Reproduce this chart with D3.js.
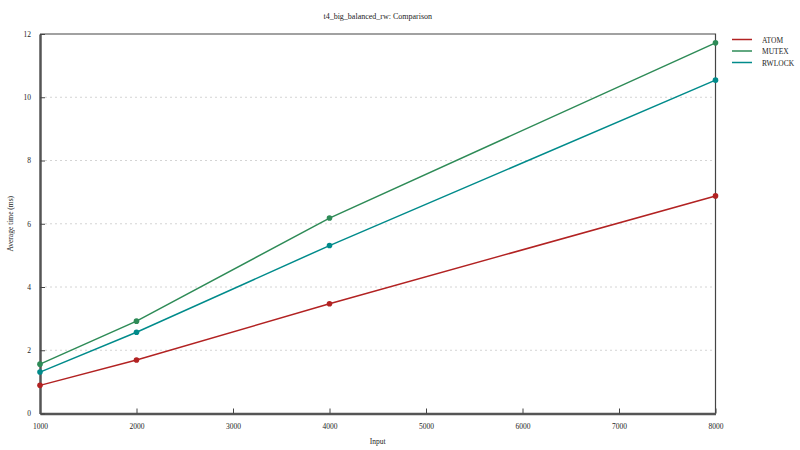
<!DOCTYPE html>
<html><head><meta charset="utf-8">
<script src="https://cdn.jsdelivr.net/npm/d3@7/dist/d3.min.js"></script>
<style>body{margin:0;background:#fff;} svg{display:block;font-family:"Liberation Serif","Times New Roman",serif;} svg text{opacity:0.99;}</style>
</head><body>
<svg id="chart" width="800" height="450"></svg>
<script>
const inputs = [1000, 2000, 4000, 8000];
const atom = [0.89, 1.69, 3.47, 6.88];
const mutex = [1.56, 2.92, 6.18, 11.72];
const rwlock = [1.31, 2.57, 5.31, 10.54];
const seriesNames = ["ATOM", "MUTEX", "RWLOCK"];
const seriesColors = ["rgb(178,34,34)", "rgb(46,139,87)", "rgb(0,139,139)"];
const xTicks = [1000, 2000, 3000, 4000, 5000, 6000, 7000, 8000];
const yTicks = [0, 2, 4, 6, 8, 10, 12];
const title = "t4_big_balanced_rw: Comparison";

const series = [atom, mutex, rwlock].map((vals, i) => ({
  name: seriesNames[i], color: seriesColors[i],
  pts: vals.map((v, j) => ({x: inputs[j], y: v}))
}));

const svg = d3.select("#chart");
const L = 40, R = 715.5, T = 34, B = 413.5;
const x = d3.scaleLinear().domain([1000, 8000]).range([L, R]);
const y = d3.scaleLinear().domain([0, 12]).range([B, T]);

// grid
svg.append("g").selectAll("line").data(yTicks.filter(t => t > 0 && t < 12)).join("line")
  .attr("x1", L).attr("x2", R).attr("y1", d => y(d)).attr("y2", d => y(d))
  .attr("stroke", "#d4d4d4").attr("stroke-width", 1).attr("stroke-dasharray", "2,3");

// top/right border
svg.append("path").attr("d", `M${L},${T}H${R}V${B}`).attr("fill", "none")
  .attr("stroke", "#444").attr("stroke-width", 1.2);

// axes
const xAxis = d3.axisBottom(x).tickValues(xTicks).tickSizeInner(-5).tickSizeOuter(0).tickPadding(10).tickFormat(d3.format("d"));
const gx = svg.append("g").attr("transform", `translate(0,${B})`).call(xAxis);
gx.select(".domain").attr("stroke", "#555").attr("stroke-width", 2.5);
gx.selectAll(".tick line").attr("stroke", "#444");
gx.selectAll("text").attr("font-size", 7.5).attr("fill", "#222").attr("font-family", "Liberation Serif");

const yAxis = d3.axisLeft(y).tickValues(yTicks).tickSizeInner(-5).tickSizeOuter(0).tickPadding(9).tickFormat(d3.format("d"));
const gy = svg.append("g").attr("transform", `translate(${L},0)`).call(yAxis);
gy.select(".domain").attr("stroke", "#555").attr("stroke-width", 2.5);
gy.selectAll(".tick line").attr("stroke", "#444");
gy.selectAll("text").attr("font-size", 7.5).attr("fill", "#222").attr("font-family", "Liberation Serif");

// lines and points
const line = d3.line().x(d => x(d.x)).y(d => y(d.y));
series.forEach(s => {
  svg.append("path").datum(s.pts).attr("d", line).attr("fill", "none")
    .attr("stroke", s.color).attr("stroke-width", 1.5);
  svg.append("g").selectAll("circle").data(s.pts).join("circle")
    .attr("cx", d => x(d.x)).attr("cy", d => y(d.y)).attr("r", 2.8).attr("fill", s.color);
});

// title & labels
svg.append("text").attr("x", (L + R) / 2).attr("y", 19).attr("text-anchor", "middle")
  .attr("font-size", 8).attr("fill", "#222").text(title);
svg.append("text").attr("x", (L + R) / 2).attr("y", 444).attr("text-anchor", "middle")
  .attr("font-size", 7.5).attr("fill", "#222").text("Input");
svg.append("text").attr("transform", `translate(13,${(T + B) / 2}) rotate(-90)`).attr("text-anchor", "middle")
  .attr("font-size", 7.5).attr("fill", "#222").text("Average time (ms)");

// legend
const lg = svg.append("g");
series.forEach((s, i) => {
  const yy = 39.5 + i * 11.5;
  lg.append("line").attr("x1", 732).attr("x2", 752).attr("y1", yy).attr("y2", yy)
    .attr("stroke", s.color).attr("stroke-width", 1.5);
  lg.append("text").attr("x", 762).attr("y", yy + 3).attr("font-size", 7.5).attr("fill", "#222").text(s.name);
});
</script>
</body></html>
